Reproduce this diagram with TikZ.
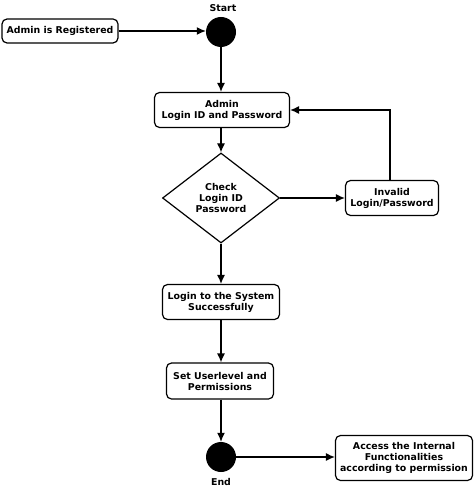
\documentclass[tikz,border=0pt]{standalone}
\usepackage{fontspec}
\setmainfont{DejaVu Sans}
\usetikzlibrary{shapes.geometric,arrows.meta}
\begin{document}
\begin{tikzpicture}[x=1pt,y=-1pt,
  font=\fontsize{9.4}{11}\selectfont\bfseries,
  box/.style={draw,rounded corners=5pt,line width=1.2pt,align=center,inner sep=2pt},
  dot/.style={circle,fill=black,inner sep=0pt,minimum size=30pt},
  flow/.style={-{Latex[length=9pt,width=8pt]},line width=1.2pt}]
\useasboundingbox (0,0) rectangle (474,489);
\node[box,minimum width=116pt,minimum height=24pt] (reg) at (60,31) {Admin is Registered};
\node[dot] (start) at (221,32) {};
\node (startlbl) at (223,8) {Start};
\node[box,minimum width=135pt,minimum height=35pt] (login) at (222,110) {Admin\\Login ID and Password};
\node[draw,diamond,line width=1.2pt,align=center,minimum width=117pt,minimum height=90pt,inner sep=0pt,aspect=1.3] (check) at (221,198) {Check\\Login ID\\Password};
\node[box,minimum width=93pt,minimum height=35pt] (invalid) at (392,198) {Invalid\\Login/Password};
\node[box,minimum width=117pt,minimum height=35pt] (success) at (221,302) {Login to the System\\Successfully};
\node[box,minimum width=107pt,minimum height=36pt] (perm) at (220,381) {Set Userlevel and\\Permissions};
\node[dot] (end) at (221,457) {};
\node (endlbl) at (221,482) {End};
\node[box,minimum width=137pt,minimum height=45pt] (access) at (404,458) {Access the Internal\\Functionalities\\according to permission};
\draw[flow] (reg.east) -- (start.west |- reg.east);
\draw[flow] (start) -- (login.north -| start);
\draw[flow] (login.south -| check.north) -- (check.north);
\draw[flow] (check.east) -- (check.east -| invalid.west);
\draw[flow] (invalid.north -| 390,0) |- (login.east);
\draw[flow] (check.south) -- (success.north -| check.south);
\draw[flow] (success.south -| check.south) -- (perm.north -| check.south);
\draw[flow] (perm.south -| end) -- (end.north);
\draw[flow] (end.east) -- (access.west |- end.east);
\end{tikzpicture}
\end{document}
